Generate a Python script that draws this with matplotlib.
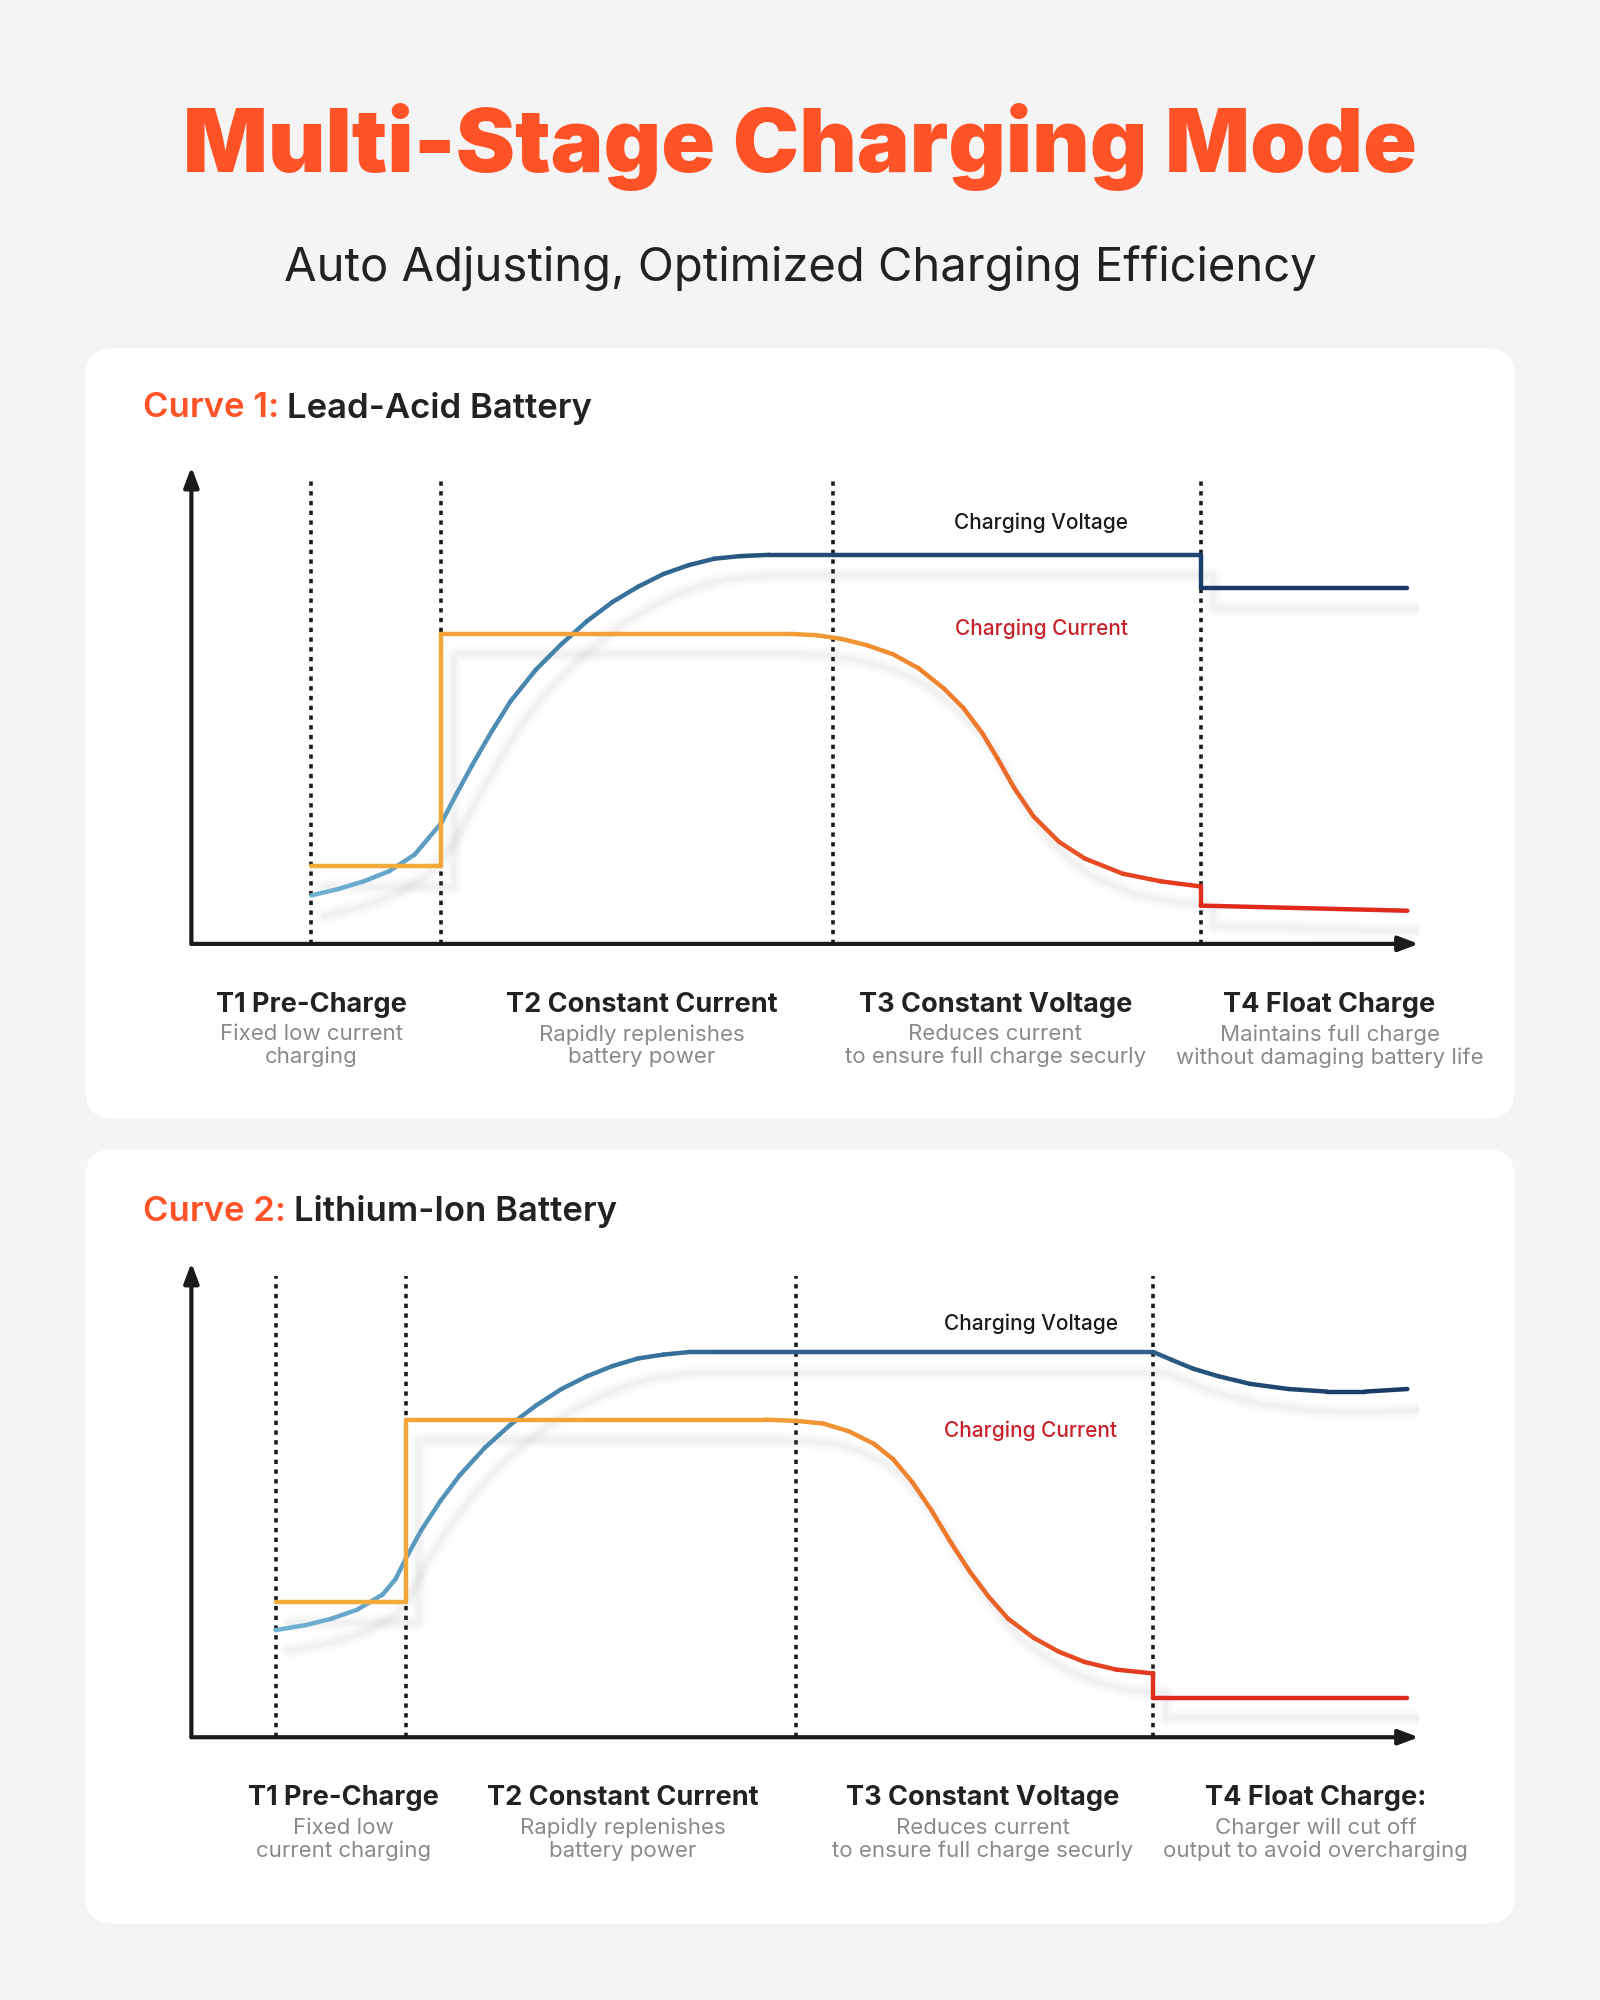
import numpy as np
import matplotlib
matplotlib.use("Agg")
import matplotlib.pyplot as plt
from matplotlib.collections import LineCollection
from matplotlib.colors import LinearSegmentedColormap
from matplotlib.patches import FancyBboxPatch

plt.rcParams['font.family'] = 'Inter'

# reference is laid out on a 1254 x 1568 grid
W, H = 1254, 1568
ORANGE = '#ff5226'
DARK = '#222222'
GREY = '#8a8a8a'

# ---- data, chart units: time from y axis, level above x axis ----
c1_volt_t = [94, 115, 135, 155, 175, 196, 208, 220, 235, 250, 270, 290, 310, 330, 350,
             370, 390, 410, 430, 453, 503, 791, 791, 953]
c1_volt_v = [38, 43, 49, 57, 70, 95, 118, 140, 166, 190, 215, 235, 253, 268, 280,
             290, 297, 302, 304, 305, 305, 305, 279, 279]
c1_curr_t = [94, 196, 196, 470, 490, 510, 530, 550, 570, 590, 605, 620, 632, 645, 660,
             680, 700, 730, 760, 791, 791, 953]
c1_curr_v = [61, 61, 243, 243, 242, 239, 234, 227, 216, 200, 185, 165, 145, 122, 100,
             80, 67, 55, 49, 45, 30, 26]
c1_stages = [94, 196, 503, 791]
c1_heads = ['T1 Pre-Charge', 'T2 Constant Current', 'T3 Constant Voltage', 'T4 Float Charge']
c1_subs = ['Fixed low current\ncharging', 'Rapidly replenishes\nbattery power',
           'Reduces current\nto ensure full charge securly',
           'Maintains full charge\nwithout damaging battery life']

c2_volt_t = [66, 90, 110, 130, 150, 160, 168, 180, 195, 210, 230, 250, 270, 290, 310,
             330, 350, 370, 390, 410, 754, 768, 785, 805, 830, 860, 890, 920, 953]
c2_volt_v = [84, 88, 93, 100, 112, 124, 140, 162, 185, 205, 227, 245, 260, 273, 283,
             291, 297, 300, 302, 302, 302, 296, 289, 283, 277, 273, 271, 271, 273]
c2_curr_t = [66, 168, 168, 450, 474, 495, 515, 535, 550, 565, 580, 595, 610, 625, 640,
             660, 680, 700, 725, 754, 754, 953]
c2_curr_v = [106, 106, 249, 249, 248, 246, 240, 230, 218, 200, 178, 153, 130, 110, 93,
             78, 67, 59, 53, 50, 31, 31]
c2_stages = [66, 168, 474, 754]
c2_heads = ['T1 Pre-Charge', 'T2 Constant Current', 'T3 Constant Voltage', 'T4 Float Charge:']
c2_subs = ['Fixed low\ncurrent charging', 'Rapidly replenishes\nbattery power',
           'Reduces current\nto ensure full charge securly',
           'Charger will cut off\noutput to avoid overcharging']

volt_cmap = LinearSegmentedColormap.from_list('v', ['#6fb0d2', '#3f7fa8', '#173a66'])
curr_cmap = LinearSegmentedColormap.from_list('c', ['#f3ac3c', '#ef7a2a', '#e12a1e'])

fig = plt.figure(figsize=(16, 20), dpi=100)
fig.patch.set_facecolor('#f4f4f4')
bg = fig.add_axes([0, 0, 1, 1])
bg.set_xlim(0, W)
bg.set_ylim(H, 0)
bg.axis('off')

bg.text(627, 115, 'Multi-Stage Charging Mode', ha='center', va='center',
        fontsize=64, fontweight='black', color=ORANGE)
bg.text(627, 210, 'Auto Adjusting, Optimized Charging Efficiency', ha='center',
        va='center', fontsize=34, color=DARK)

for top, bot in [(273, 877), (901, 1508)]:
    bg.add_patch(FancyBboxPatch((67, top), 1120, bot - top,
                                boxstyle='round,pad=0,rounding_size=22',
                                fc='white', ec='none'))

renderer = fig.canvas.get_renderer()


def grad_line(ax, t, v, cmap, lw=3.2):
    pts = np.column_stack([t, v]).reshape(-1, 1, 2)
    segs = np.concatenate([pts[:-1], pts[1:]], axis=1)
    lc = LineCollection(segs, cmap=cmap, linewidths=lw, capstyle='round',
                        joinstyle='round', zorder=4)
    lc.set_array(np.linspace(0, 1, len(segs)))
    ax.add_collection(lc)
    # soft shadow
    for w, a in [(12, 0.025), (8, 0.035), (4, 0.05)]:
        ax.plot(np.array(t) + 10, np.array(v) - 16, color='#888888', lw=w,
                alpha=a, solid_capstyle='round', solid_joinstyle='round', zorder=2)


def chart(origin_x, origin_y, top_y, label_y, title_no, title_txt,
          vt, vv, ct, cv, stages, heads, subs, head_x, vlab, clab):
    t1 = bg.text(112, label_y, f'Curve {title_no}:', ha='left', va='center',
                 fontsize=25, fontweight='semibold', color=ORANGE)
    bb = t1.get_window_extent(renderer).transformed(bg.transData.inverted())
    bg.text(bb.x1 + 6, label_y, title_txt, ha='left', va='center',
            fontsize=25, fontweight='semibold', color=DARK)

    x0, x1 = origin_x, 1112
    y0, y1 = origin_y, top_y
    ax = fig.add_axes([x0 / W, 1 - y0 / H, (x1 - x0) / W, (y0 - y1) / H])
    ax.set_xlim(0, x1 - x0)
    ax.set_ylim(0, y0 - y1)
    ax.axis('off')
    for xy in [(1, 0), (0, 1)]:
        ax.annotate('', xy=xy, xytext=(0, 0), xycoords='axes fraction',
                    arrowprops=dict(arrowstyle='-|>,head_length=1.2,head_width=0.45',
                                    lw=3, color='#1b1b1b', shrinkA=0, shrinkB=0))
    for s in stages:
        ax.plot([s, s], [0, y0 - y1 - 10], ls=(0, (1.2, 1.5)), lw=2.6,
                color='#1b1b1b', zorder=1)
    grad_line(ax, vt, vv, volt_cmap)
    grad_line(ax, ct, cv, curr_cmap)
    ax.text(vlab[0], vlab[1], 'Charging Voltage', ha='center', va='center',
            fontsize=15, fontweight='medium', color='#1b1b1b')
    ax.text(clab[0], clab[1], 'Charging Current', ha='center', va='center',
            fontsize=15, fontweight='medium', color='#c8232c')

    for hx, hd, sb in zip(head_x, heads, subs):
        bg.text(hx, origin_y + 48, hd, ha='center', va='center', fontsize=19.5,
                fontweight='bold', color=DARK)
        bg.text(hx, origin_y + 63, sb, ha='center', va='top', fontsize=16,
                color=GREY, linespacing=1.15)


chart(150, 740, 366, 320, 1, 'Lead-Acid Battery',
      c1_volt_t, c1_volt_v, c1_curr_t, c1_curr_v, c1_stages, c1_heads, c1_subs,
      [244, 503, 780, 1042], (666, 330), (666, 247))
chart(150, 1362, 990, 950, 2, 'Lithium-Ion Battery',
      c2_volt_t, c2_volt_v, c2_curr_t, c2_curr_v, c2_stages, c2_heads, c2_subs,
      [269, 488, 770, 1031], (658, 324), (658, 240))

fig.savefig('out.png', dpi=100, facecolor=fig.get_facecolor())
